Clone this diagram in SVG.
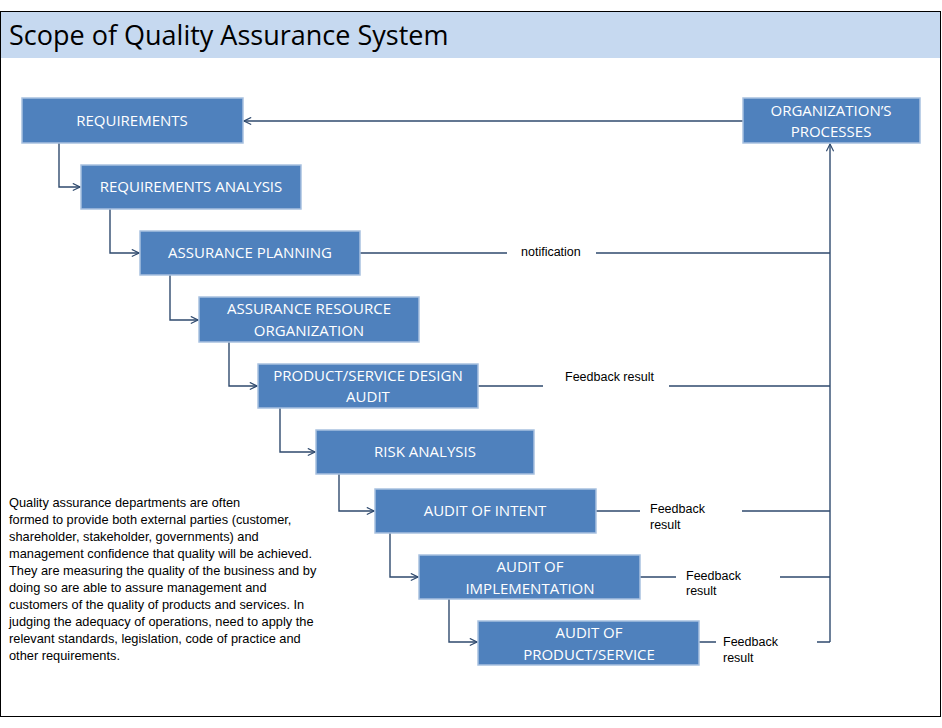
<svg xmlns="http://www.w3.org/2000/svg" width="942" height="728" viewBox="0 0 942 728">
<defs>
<marker id="a" viewBox="0 0 10 10" refX="9" refY="5" markerWidth="9" markerHeight="9" orient="auto" markerUnits="userSpaceOnUse"><path d="M1,1 L9,5 L1,9" fill="none" stroke="#2f4a6e" stroke-width="1.3"/></marker>
<style>
.b{fill:#4f81bd;stroke:#a8c1e0;stroke-width:1.5}
.t{font-family:"Open Sans","DejaVu Sans",sans-serif;font-size:15px;fill:#fff;text-anchor:middle}
.c{fill:none;stroke:#2f4a6e;stroke-width:1.4}
.l{font-family:"Liberation Sans",Arial,sans-serif;font-size:12.5px;fill:#000}
.p{font-family:"Liberation Sans",Arial,sans-serif;font-size:12.8px;fill:#000}
</style>
</defs>
<rect width="942" height="728" fill="#fff"/>
<rect x="0.5" y="11.5" width="940" height="705" fill="#fff" stroke="#000"/>
<rect x="1" y="12" width="939" height="46" fill="#c6d9f0"/>
<text x="9" y="45" font-family="'Open Sans','DejaVu Sans',sans-serif" font-size="27" fill="#000">Scope of Quality Assurance System</text>
<g id="connectors">
<path class="c" d="M743,121 H244" marker-end="url(#a)"/>
<path class="c" d="M830,642 V144" marker-end="url(#a)"/>
<path class="c" d="M59,143 V187 H80" marker-end="url(#a)"/>
<path class="c" d="M110,209 V253 H139" marker-end="url(#a)"/>
<path class="c" d="M170,275 V320 H198" marker-end="url(#a)"/>
<path class="c" d="M229,342 V386 H257" marker-end="url(#a)"/>
<path class="c" d="M280,408 V452 H315" marker-end="url(#a)"/>
<path class="c" d="M339,474 V511 H374" marker-end="url(#a)"/>
<path class="c" d="M390,533 V577 H418" marker-end="url(#a)"/>
<path class="c" d="M449,599 V642 H477" marker-end="url(#a)"/>
<path class="c" d="M360,253 H507 M596,253 H830"/>
<path class="c" d="M478,386 H543 M669,386 H830"/>
<path class="c" d="M596,511 H640 M742,511 H830"/>
<path class="c" d="M640,577 H676 M780,577 H830"/>
<path class="c" d="M699,642 H716 M817,642 H830"/>
<text class="l" x="521" y="256">notification</text>
<text class="l" x="565" y="381">Feedback result</text>
<text class="l" x="650" y="513">Feedback</text><text class="l" x="650" y="529">result</text>
<text class="l" x="686" y="580">Feedback</text><text class="l" x="686" y="595">result</text>
<text class="l" x="723" y="646">Feedback</text><text class="l" x="723" y="662">result</text>
</g>
<g id="n1"><rect class="b" x="22" y="98" width="221" height="45"/><text class="t" x="132" y="126">REQUIREMENTS</text></g>
<g id="n2"><rect class="b" x="81" y="165" width="220" height="44"/><text class="t" x="191" y="192">REQUIREMENTS ANALYSIS</text></g>
<g id="n3"><rect class="b" x="140" y="231" width="220" height="44"/><text class="t" x="250" y="258">ASSURANCE PLANNING</text></g>
<g id="n4"><rect class="b" x="199" y="297" width="220" height="45"/><text class="t" x="309" y="314">ASSURANCE RESOURCE</text><text class="t" x="309" y="336">ORGANIZATION</text></g>
<g id="n5"><rect class="b" x="258" y="364" width="220" height="44"/><text class="t" x="368" y="381">PRODUCT/SERVICE DESIGN</text><text class="t" x="368" y="402">AUDIT</text></g>
<g id="n6"><rect class="b" x="316" y="430" width="218" height="44"/><text class="t" x="425" y="457">RISK ANALYSIS</text></g>
<g id="n7"><rect class="b" x="375" y="489" width="221" height="44"/><text class="t" x="485" y="516">AUDIT OF INTENT</text></g>
<g id="n8"><rect class="b" x="419" y="555" width="221" height="44"/><text class="t" x="530" y="572">AUDIT OF</text><text class="t" x="530" y="594">IMPLEMENTATION</text></g>
<g id="n9"><rect class="b" x="478" y="621" width="221" height="44"/><text class="t" x="589" y="638">AUDIT OF</text><text class="t" x="589" y="660">PRODUCT/SERVICE</text></g>
<g id="n10"><rect class="b" x="743" y="98" width="177" height="45"/><text class="t" x="831" y="116">ORGANIZATION’S</text><text class="t" x="831" y="137">PROCESSES</text></g>
<g id="para">
<text class="p" x="9" y="507">Quality assurance departments are often</text>
<text class="p" x="9" y="524">formed to provide both external parties (customer,</text>
<text class="p" x="9" y="541">shareholder, stakeholder, governments) and</text>
<text class="p" x="9" y="558">management confidence that quality will be achieved.</text>
<text class="p" x="9" y="575">They are measuring the quality of the business and by</text>
<text class="p" x="9" y="592">doing so are able to assure management and</text>
<text class="p" x="9" y="609">customers of the quality of products and services. In</text>
<text class="p" x="9" y="626">judging the adequacy of operations, need to apply the</text>
<text class="p" x="9" y="643">relevant standards, legislation, code of practice and</text>
<text class="p" x="9" y="660">other requirements.</text>
</g>
</svg>
